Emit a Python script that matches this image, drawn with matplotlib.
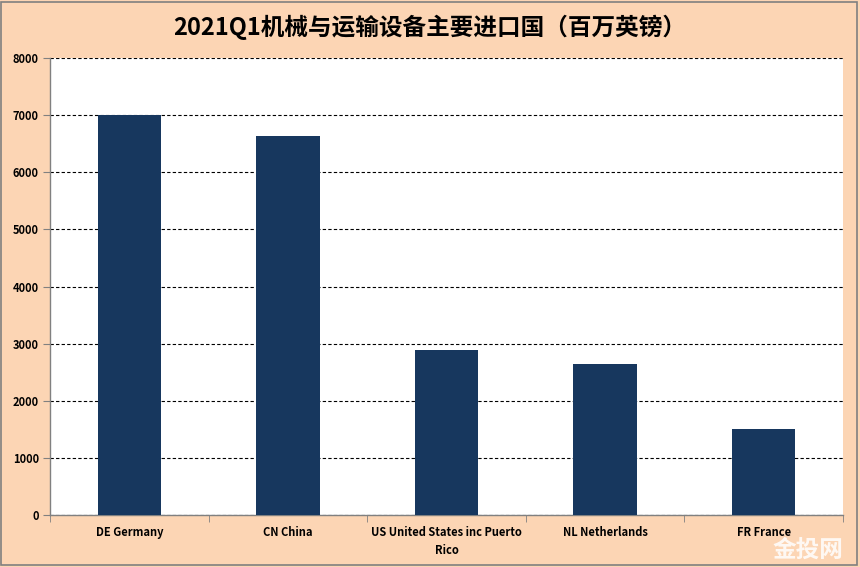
import matplotlib.pyplot as plt
from matplotlib.patches import Rectangle
import numpy as np

plt.rcParams['font.family'] = ['Noto Sans CJK SC', 'DejaVu Sans']

# data
countries = ['DE Germany', 'CN China', 'US United States inc Puerto\nRico',
             'NL Netherlands', 'FR France']
imports = [7000, 6640, 2890, 2645, 1505]
yticks = [0, 1000, 2000, 3000, 4000, 5000, 6000, 7000, 8000]

bg = '#FCD5B4'
fig = plt.figure(figsize=(8.6, 5.67), dpi=100, facecolor=bg)
ax = fig.add_axes([0.0581, 0.0917, 0.9221, 0.806])
ax.set_facecolor('white')

x = np.arange(len(countries))
ax.bar(x, imports, width=0.4, color='#17375E', zorder=3)

ax.set_xlim(-0.5, len(countries) - 0.5)
ax.set_ylim(0, 8000)
ax.set_yticks(yticks)
ax.set_yticklabels([str(v) for v in yticks], fontsize=8, fontweight='bold')
ax.yaxis.grid(True, linestyle=(0, (3, 2)), color='black', linewidth=0.8, zorder=1)

# category labels centred, tick marks between categories
ax.set_xticks(x)
ax.set_xticklabels(countries, fontsize=8, fontweight='bold', linespacing=1.5)
ax.tick_params(axis='x', length=0, pad=8)
ax.set_xticks(np.arange(-0.5, len(countries)), minor=True)
ax.tick_params(axis='x', which='minor', length=5, color='#808080', direction='out')
ax.tick_params(axis='y', length=5, color='#808080', direction='out', pad=3)

for s in ['top', 'right']:
    ax.spines[s].set_visible(False)
for s in ['left', 'bottom']:
    ax.spines[s].set_color('#808080')
    ax.spines[s].set_linewidth(1)

fig.text(0.5, 0.951, '2021Q1机械与运输设备主要进口国（百万英镑）', ha='center', va='center',
         fontsize=17, fontweight='bold')

# watermark
fig.text(0.94, 0.03, '金投网', ha='center', va='center', fontsize=17,
         color='white', alpha=0.85, fontweight='bold')

fig.patches.append(Rectangle((0.001, 0.003), 0.996, 0.993, transform=fig.transFigure,
                             fill=False, edgecolor='#808080', linewidth=1.2))

fig.savefig('out.png', dpi=100, facecolor=bg)
